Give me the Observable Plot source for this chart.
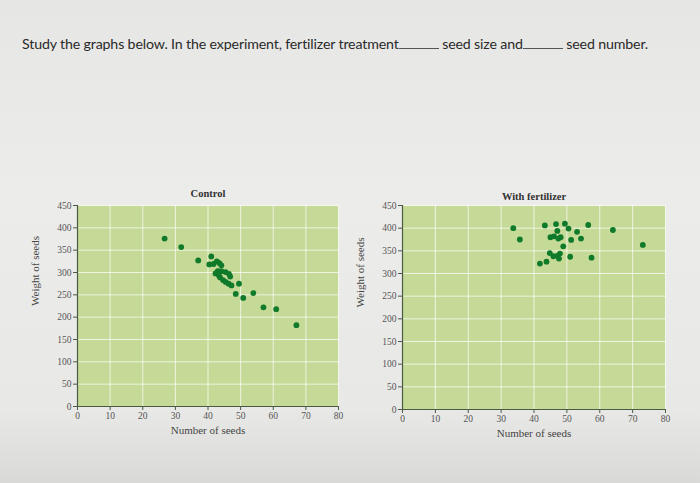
<!DOCTYPE html>
<html>
<head>
<meta charset="utf-8">
<script src="https://cdn.jsdelivr.net/npm/d3@7"></script>
<script src="https://cdn.jsdelivr.net/npm/@observablehq/plot@0.6"></script>
<style>
  html, body { margin: 0; padding: 0; }
  body {
    width: 700px; height: 483px; overflow: hidden; position: relative;
    background: linear-gradient(180deg, #e6e6e4 0%, #ececea 40%, #e8e8e6 85%, #d9d9d7 100%);
    font-family: Lato, sans-serif;
  }
  #q { position: absolute; left: 22px; top: 35px; font-size: 14.2px; color: #2a2a2a; letter-spacing: -0.15px; white-space: nowrap; }
  #q .blank { display: inline-block; width: 40px; border-bottom: 1px solid #555; height: 12px; vertical-align: baseline; }
  #control { position: absolute; left: 20px; top: 180px; }
  #fert { position: absolute; left: 345px; top: 180px; }
  svg text { font-family: "Liberation Serif", "DejaVu Serif", serif; }
</style>
</head>
<body>
<div id="q">Study the graphs below. In the experiment, fertilizer treatment<span class="blank"></span> seed size and<span class="blank"></span> seed number.</div>
<div id="control"></div>
<div id="fert"></div>
<script>
const controlSeeds  = [26.7, 31.8, 37.0, 41.0, 40.4, 41.7, 42.7, 43.5, 44.1, 42.3, 43.0, 44.1, 45.4, 46.4, 46.8, 43.3, 43.7, 44.6, 45.4, 46.3, 47.2, 49.5, 48.5, 50.8, 53.9, 57.0, 60.9, 67.1];
const controlWeight = [376, 357, 327, 336, 318, 319, 325, 321, 316, 298, 303, 303, 301, 297, 291, 294, 289, 283, 279, 275, 271, 275, 252, 243, 254, 222, 218, 182];

const fertSeeds  = [33.7, 35.7, 43.3, 46.7, 49.4, 50.5, 47.1, 45.0, 46.1, 47.4, 48.1, 53.1, 51.3, 56.5, 64.0, 73.1, 48.9, 44.8, 45.9, 47.1, 47.9, 47.6, 51.0, 43.8, 41.8, 57.5, 54.3];
const fertWeight = [400, 375, 406, 409, 410, 399, 394, 380, 382, 377, 380, 392, 374, 407, 396, 363, 360, 345, 338, 339, 344, 333, 337, 326, 322, 335, 377];

const xTicks = [0, 10, 20, 30, 40, 50, 60, 70, 80];
const yTicks = [0, 50, 100, 150, 200, 250, 300, 350, 400, 450];
const titles = ["Control", "With fertilizer"];
const xLabel = "Number of seeds";
const yLabel = "Weight of seeds";

function chart(seeds, weights, title, w, h, titleDy) {
  const data = seeds.map((s, i) => ({seeds: s, weight: weights[i]}));
  return Plot.plot({
    width: w, height: h,
    marginLeft: 57, marginRight: 12, marginTop: 25, marginBottom: 36,
    style: {background: "transparent", color: "#555", fontSize: "9.5px"},
    x: {domain: [0, 80], ticks: xTicks},
    y: {domain: [0, 450], ticks: yTicks},
    marks: [
      Plot.frame({fill: "#c5da96", stroke: null}),
      Plot.gridX(xTicks, {stroke: "#ffffff", strokeOpacity: 0.7, strokeWidth: 1}),
      Plot.gridY(yTicks, {stroke: "#ffffff", strokeOpacity: 0.7, strokeWidth: 1}),
      Plot.ruleX([0], {stroke: "#4a5a44", strokeWidth: 1.2}),
      Plot.ruleY([0], {stroke: "#4a5a44", strokeWidth: 1.2}),
      Plot.axisX({ticks: xTicks, tickSize: 4, tickPadding: 2, label: null, fill: "#555", stroke: "#4a5a44", fontSize: 9.5}),
      Plot.axisY({ticks: yTicks, tickSize: 4, tickPadding: 2, label: null, fill: "#555", stroke: "#4a5a44", fontSize: 9.5}),
      Plot.text([xLabel], {frameAnchor: "bottom", dy: 27, fill: "#444", fontSize: 11}),
      Plot.text([yLabel], {frameAnchor: "left", dx: -42, rotate: -90, fill: "#444", fontSize: 11}),
      Plot.text([title], {frameAnchor: "top", dy: titleDy, fill: "#333", fontSize: 10.5, fontWeight: "bold"}),
      Plot.dot(data, {x: "seeds", y: "weight", r: 2.9, fill: "#0f7a2a", stroke: null})
    ]
  });
}

document.getElementById("control").append(chart(controlSeeds, controlWeight, titles[0], 330, 262, -16));
document.getElementById("fert").append(chart(fertSeeds, fertWeight, titles[1], 332, 265, -13));
</script>
</body>
</html>
